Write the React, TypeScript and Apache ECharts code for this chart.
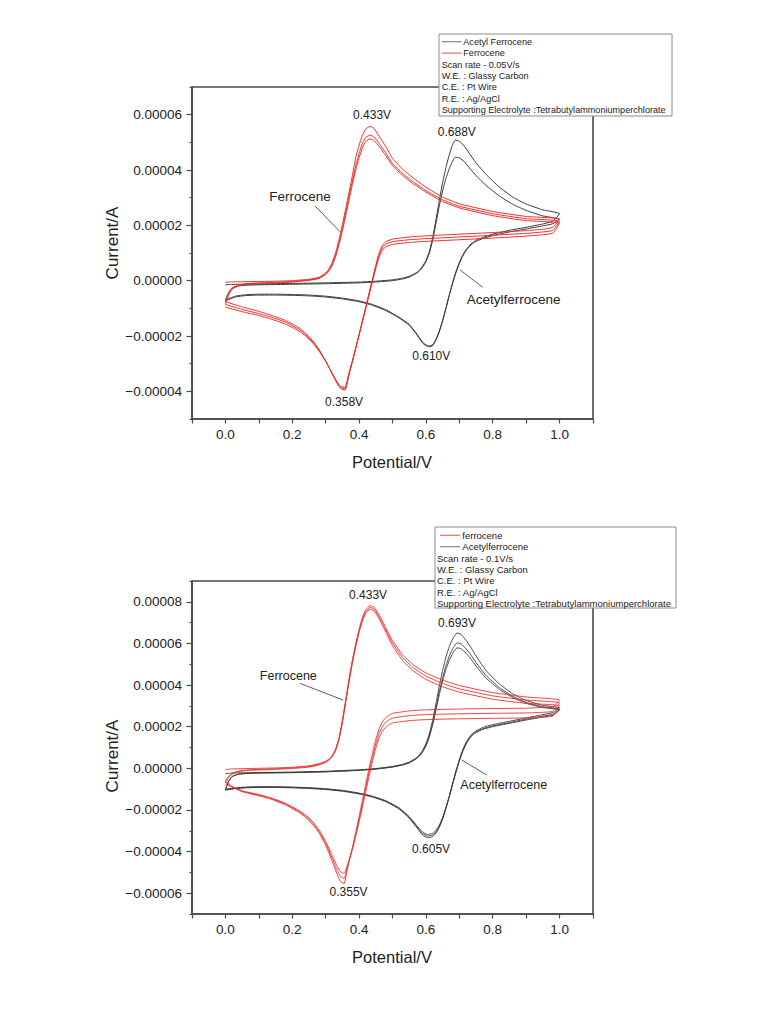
import React, { useEffect, useRef } from 'react';
import * as echarts from 'echarts';

// ---------- Upper panel: scan rate 0.05 V/s (potential in V, current in µA) ----------
const topFcFwdV = [0, 0.01, 0.02, 0.04, 0.07, 0.1, 0.15, 0.2, 0.25, 0.28, 0.3, 0.31, 0.32, 0.33, 0.34, 0.35, 0.36, 0.37, 0.38, 0.39, 0.4, 0.41, 0.42, 0.433, 0.445, 0.46, 0.48, 0.5, 0.53, 0.56, 0.6, 0.65, 0.7, 0.8, 0.9, 1.0];
const topFcFwd1 = [-0.6, -0.5, -0.45, -0.4, -0.35, -0.3, -0.2, 0, 0.5, 1.2, 2.8, 4.3, 6.7, 10.2, 14.8, 20.2, 26, 32, 38, 44.5, 49, 52.5, 54.8, 55.8, 55, 52.2, 48.5, 44.2, 40.3, 37.3, 33.8, 30.2, 27.8, 25, 23.2, 22.3];
const topFcFwd2 = [-7.6, -4.5, -2.6, -1.5, -1.0, -0.8, -0.6, -0.3, 0.3, 1.0, 2.5, 3.9, 6.1, 9.4, 13.8, 19, 24.6, 30.4, 36, 41.6, 46, 49.6, 51.8, 52.6, 51.9, 49.6, 46.2, 42.4, 38.8, 35.9, 32.6, 29.2, 26.9, 24.2, 22.4, 21.5];
const topFcFwd3 = [-8.6, -5.2, -3.1, -1.8, -1.2, -1.0, -0.8, -0.5, 0.1, 0.8, 2.2, 3.5, 5.6, 8.8, 13, 18, 23.5, 29.2, 34.8, 40, 44.4, 48, 50.3, 51.3, 50.6, 48.5, 45.2, 41.6, 38.1, 35.2, 32, 28.6, 26.3, 23.5, 21.7, 20.8];
const topFcRevV = [0.98, 0.95, 0.9, 0.8, 0.7, 0.6, 0.55, 0.5, 0.48, 0.47, 0.46, 0.45, 0.44, 0.43, 0.42, 0.41, 0.4, 0.39, 0.38, 0.37, 0.358, 0.345, 0.335, 0.32, 0.3, 0.28, 0.26, 0.24, 0.22, 0.18, 0.14, 0.1, 0.05, 0];
const topFcRev1 = [19.3, 18.6, 18.1, 17.4, 16.8, 16.2, 15.8, 15.0, 14.1, 12.8, 10.0, 5.6, 0.6, -4.4, -9.4, -14.4, -19.4, -24.4, -29.3, -34, -39.6, -39, -37.3, -33.8, -29, -24.8, -21.5, -19, -17, -14.4, -12.6, -11.1, -9.5, -7.6];
const topFcRev2 = [18.2, 17.6, 17.1, 16.4, 15.8, 15.2, 14.8, 14.1, 13.2, 12.0, 9.3, 5.0, 0.1, -4.8, -9.8, -14.7, -19.6, -24.4, -29.2, -33.6, -39.1, -38.6, -37, -33.7, -29.1, -25.1, -21.9, -19.5, -17.6, -15, -13.3, -11.9, -10.4, -8.6];
const topFcRev3 = [17.2, 16.6, 16.1, 15.4, 14.8, 14.2, 13.8, 13.1, 12.2, 11.1, 8.5, 4.3, -0.4, -5.2, -10.1, -14.9, -19.7, -24.4, -29, -33.3, -38.6, -38.2, -36.7, -33.6, -29.1, -25.4, -22.3, -20, -18.2, -15.7, -14, -12.6, -11.2, -9.6];

const topAcFwdV = [0, 0.01, 0.02, 0.04, 0.07, 0.1, 0.2, 0.3, 0.4, 0.45, 0.5, 0.53, 0.55, 0.57, 0.58, 0.59, 0.6, 0.61, 0.62, 0.63, 0.64, 0.65, 0.66, 0.67, 0.678, 0.688, 0.7, 0.715, 0.73, 0.75, 0.78, 0.82, 0.86, 0.9, 0.95, 1.0];
const topAcFwd1 = [-1.5, -1.4, -1.4, -1.3, -1.3, -1.2, -1.0, -0.8, -0.5, -0.2, 0.3, 0.9, 1.6, 2.8, 3.8, 5.2, 7.3, 10.5, 15.5, 22, 29, 35.5, 41, 45.5, 48.6, 50.8, 50.4, 48.6, 46, 42.6, 38.4, 33.8, 30.2, 27.7, 25.6, 24.2];
const topAcFwd2 = [-7, -4.2, -2.8, -1.9, -1.6, -1.5, -1.3, -1.1, -0.8, -0.5, 0, 0.6, 1.3, 2.5, 3.4, 4.8, 6.8, 9.8, 14.5, 20.5, 27, 32.5, 37, 40.5, 42.8, 44.6, 44.4, 43, 40.8, 38, 34.4, 30.6, 27.6, 25.4, 23.4, 22.2];
const topAcRevV = [0.98, 0.95, 0.9, 0.85, 0.8, 0.77, 0.75, 0.74, 0.73, 0.72, 0.71, 0.7, 0.69, 0.68, 0.67, 0.66, 0.65, 0.64, 0.63, 0.62, 0.61, 0.6, 0.59, 0.57, 0.55, 0.52, 0.48, 0.44, 0.4, 0.35, 0.3, 0.25, 0.2, 0.15, 0.1, 0.06, 0.03, 0];
const topAcRev1 = [21.5, 20.5, 19.3, 18.2, 16.8, 15.6, 14.6, 13.8, 12.7, 11.2, 9.2, 6.6, 3.3, -0.6, -5, -9.8, -14.3, -18.2, -21.2, -23.2, -23.6, -23.2, -22.2, -18.8, -15.8, -13.2, -10.5, -8.6, -7.3, -6.3, -5.6, -5.2, -5, -4.9, -4.9, -5.1, -5.6, -7];
const topAcRev2 = [20.6, 19.8, 18.7, 17.6, 16.3, 15.2, 14.2, 13.4, 12.3, 10.8, 8.8, 6.2, 2.9, -1, -5.4, -10.1, -14.6, -18.5, -21.5, -23.5, -23.9, -23.5, -22.5, -19.1, -16.1, -13.5, -10.8, -8.9, -7.6, -6.6, -5.9, -5.5, -5.3, -5.2, -5.2, -5.4, -5.9, -7.3];

// ---------- Lower panel: scan rate 0.1 V/s ----------
const botFcFwdV = [0, 0.01, 0.02, 0.04, 0.07, 0.1, 0.15, 0.2, 0.25, 0.28, 0.3, 0.31, 0.32, 0.33, 0.34, 0.35, 0.36, 0.37, 0.38, 0.39, 0.4, 0.41, 0.42, 0.433, 0.445, 0.46, 0.48, 0.5, 0.53, 0.56, 0.6, 0.65, 0.7, 0.8, 0.9, 1.0];
const botFcFwd1 = [-0.6, -0.4, -0.3, -0.2, -0.1, 0, 0.2, 0.5, 1.2, 2.2, 3.4, 4.5, 6.2, 9.4, 14.8, 23, 33, 43, 52, 60, 66.8, 72.4, 76.2, 78.2, 77.4, 73.8, 67.6, 61.4, 54.6, 50, 45.8, 42.4, 39.8, 36.4, 34.3, 32.8];
const botFcFwd2 = [-6, -3.8, -2.4, -1.3, -0.7, -0.5, -0.2, 0.2, 0.9, 1.9, 3.1, 4.2, 5.9, 9, 14.3, 22.4, 32.4, 42.3, 51.3, 59.2, 66, 71.6, 75.3, 77.3, 76.5, 72.8, 66.5, 60.2, 53.3, 48.6, 44.3, 40.8, 38.2, 34.8, 32.8, 31.4];
const botFcFwd3 = [-6.8, -4.3, -2.8, -1.6, -1.0, -0.8, -0.5, -0.1, 0.6, 1.6, 2.8, 3.9, 5.6, 8.6, 13.8, 21.8, 31.7, 41.5, 50.5, 58.4, 65.2, 70.8, 74.4, 76.4, 75.6, 71.8, 65.4, 58.9, 51.9, 47.1, 42.7, 39.2, 36.6, 33.2, 31.2, 30];
const botFcRevV = [0.98, 0.95, 0.9, 0.8, 0.7, 0.6, 0.55, 0.5, 0.49, 0.48, 0.47, 0.46, 0.45, 0.44, 0.43, 0.42, 0.41, 0.4, 0.39, 0.38, 0.37, 0.363, 0.355, 0.345, 0.335, 0.32, 0.3, 0.28, 0.26, 0.24, 0.22, 0.18, 0.14, 0.1, 0.05, 0.02, 0];
const botFcRev1 = [29.6, 29.2, 28.9, 28.7, 28.5, 28.1, 27.6, 26.4, 25.6, 24.4, 22.4, 19, 13.8, 7.2, 0, -7.6, -15.4, -23.2, -30.8, -38, -44.8, -50, -55.5, -54.5, -51.2, -44.8, -37, -31, -26.8, -23.6, -21.2, -17.6, -15, -13.2, -11.2, -8.8, -6];
const botFcRev2 = [27.4, 26.9, 26.6, 26.4, 26.2, 25.8, 25.3, 24.1, 23.3, 22.1, 20.1, 16.8, 11.7, 5.2, -1.9, -9.4, -17, -24.6, -31.8, -38.6, -44.6, -48.8, -53, -52.1, -49.2, -43.4, -36, -30.2, -26.1, -23, -20.7, -17.2, -14.7, -12.9, -11, -8.9, -6.8];
const botFcRev3 = [25.2, 24.6, 24.2, 24, 23.8, 23.4, 22.9, 21.8, 21, 19.8, 17.9, 14.6, 9.6, 3.2, -3.8, -11.2, -18.6, -25.8, -32.6, -38.9, -44.1, -47.5, -50.5, -49.8, -47.2, -42, -35, -29.4, -25.4, -22.4, -20.2, -16.8, -14.4, -12.6, -10.8, -9, -7.6];

const botAcFwdV = [0, 0.01, 0.02, 0.04, 0.07, 0.1, 0.2, 0.3, 0.4, 0.45, 0.5, 0.53, 0.55, 0.57, 0.58, 0.59, 0.6, 0.61, 0.62, 0.63, 0.64, 0.65, 0.66, 0.67, 0.68, 0.693, 0.705, 0.72, 0.735, 0.75, 0.78, 0.82, 0.86, 0.9, 0.95, 1.0];
const botAcFwd1 = [-2.6, -2.4, -2.3, -2.2, -2.1, -2, -1.8, -1.4, -0.7, -0.1, 0.9, 1.9, 3, 4.9, 6.4, 8.6, 11.8, 16.5, 23, 31, 39.5, 47, 53.5, 58.5, 62.2, 65, 64.4, 61.5, 58, 54, 47, 40.5, 35.8, 32.6, 30.3, 29];
const botAcFwd2 = [-10.5, -6.2, -4, -2.8, -2.4, -2.2, -2, -1.6, -0.9, -0.3, 0.7, 1.7, 2.8, 4.6, 6, 8.1, 11.1, 15.5, 21.6, 29, 36.8, 43.6, 49.4, 54, 57.4, 60.3, 59.8, 57.4, 54.4, 50.8, 44.6, 38.8, 34.6, 31.7, 29.6, 28.4];
const botAcFwd3 = [-10.2, -6, -3.9, -2.8, -2.4, -2.3, -2.1, -1.7, -1, -0.4, 0.6, 1.6, 2.6, 4.4, 5.8, 7.8, 10.7, 14.9, 20.8, 27.9, 35.4, 41.9, 47.5, 51.9, 55.2, 57.9, 57.5, 55.3, 52.5, 49.1, 43.3, 37.9, 34, 31.2, 29.2, 28];
const botAcRevV = [0.98, 0.95, 0.9, 0.85, 0.8, 0.77, 0.75, 0.74, 0.73, 0.72, 0.71, 0.7, 0.69, 0.68, 0.67, 0.66, 0.65, 0.64, 0.63, 0.62, 0.605, 0.59, 0.57, 0.55, 0.52, 0.48, 0.44, 0.4, 0.35, 0.3, 0.25, 0.2, 0.15, 0.1, 0.06, 0.03, 0];
const botAcRev1 = [26.8, 25.8, 24.2, 22.6, 21, 19.6, 18, 16.8, 15, 12.4, 8.8, 4.2, -1.2, -7.2, -13.4, -19.2, -24.4, -28.4, -31.2, -32.8, -33.4, -32, -28, -24, -19.6, -16, -13.8, -12.3, -11, -10.2, -9.7, -9.4, -9.2, -9.2, -9.4, -9.8, -10.5];
const botAcRev2 = [26, 25.1, 23.6, 22, 20.4, 19, 17.5, 16.3, 14.5, 11.9, 8.3, 3.7, -1.6, -7.5, -13.5, -19.1, -24.1, -27.9, -30.6, -32.1, -32.6, -31.3, -27.5, -23.6, -19.3, -15.8, -13.6, -12.1, -10.8, -10, -9.5, -9.2, -9, -9, -9.2, -9.6, -10.2];
const botAcRev3 = [25.4, 24.6, 23.2, 21.6, 20, 18.7, 17.2, 16, 14.2, 11.6, 8, 3.4, -1.8, -7.6, -13.4, -18.8, -23.6, -27.3, -29.9, -31.3, -31.8, -30.6, -27, -23.2, -19, -15.6, -13.4, -11.9, -10.6, -9.8, -9.3, -9, -8.8, -8.8, -9, -9.4, -10];

// Axis ticks (µA) and legend texts
const topMajorTicks = [-40, -20, 0, 20, 40, 60];
const topMinorTicks = [-50, -30, -10, 10, 30, 50, 70];
const botMajorTicks = [-60, -40, -20, 0, 20, 40, 60, 80];
const botMinorTicks = [-70, -50, -30, -10, 10, 30, 50, 70, 90];
const topLegendRows = ['Acetyl Ferrocene', 'Ferrocene', 'Scan rate - 0.05V/s', 'W.E. : Glassy Carbon', 'C.E. : Pt Wire', 'R.E. : Ag/AgCl', 'Supporting Electrolyte :Tetrabutylammoniumperchlorate'];
const botLegendRows = ['ferrocene', 'Acetylferrocene', 'Scan rate - 0.1V/s', 'W.E. : Glassy Carbon', 'C.E. : Pt Wire', 'R.E. : Ag/AgCl', 'Supporting Electrolyte :Tetrabutylammoniumperchlorate'];

const FONT = "'Liberation Sans', Arial, Helvetica, sans-serif";
const RED = '#e8302c';
const DARK = '#3a3a3a';
const LEG_RED = '#f06a6a';
const LEG_GRAY = '#8a8a8a';
const AXIS = '#4a4a4a';
const TEXT = '#222';

type Pt = [number, number];

function loop(fv: number[], fi: number[], rv: number[], ri: number[]): Pt[] {
  const pts: Pt[] = fv.map((v, i) => [v, fi[i]] as Pt);
  rv.forEach((v, i) => pts.push([v, ri[i]]));
  return pts;
}

function extreme(v: number[], cur: number[], sign: number): Pt {
  let k = 0;
  cur.forEach((c, i) => { if (sign * c > sign * cur[k]) k = i; });
  return [v[k], cur[k]];
}

function fmtCurrent(v: number) {
  const r = Math.round(v);
  if (r === 0) return '0.00000';
  const s = (Math.abs(r) / 1e6).toFixed(5);
  return r < 0 ? '\u2212' + s : s;
}

function xAxisFor(gridIndex: number) {
  return {
    type: 'value', gridIndex, min: -0.1, max: 1.1, interval: 0.1,
    axisLine: { show: true, onZero: false, lineStyle: { color: AXIS, width: 1.6 } },
    axisTick: { show: true, length: 4.5, lineStyle: { color: AXIS, width: 1.2 } },
    axisLabel: {
      margin: 8, color: TEXT, fontSize: 13.5, fontFamily: FONT,
      formatter: (v: number) => {
        const k = Math.round(v * 10);
        return k < 0 || k > 10 || k % 2 !== 0 ? '' : (k / 10).toFixed(1);
      },
    },
    splitLine: { show: false },
  };
}

function yMain(gridIndex: number, min: number, max: number, majors: number[]) {
  return {
    type: 'value', gridIndex, min, max, interval: 10, position: 'left',
    axisLine: { show: true, onZero: false, lineStyle: { color: AXIS, width: 1.6 } },
    axisTick: { show: true, length: 5.5, customValues: majors, lineStyle: { color: AXIS, width: 1.2 } },
    axisLabel: {
      customValues: majors, margin: 10, color: TEXT, fontSize: 13.5, fontFamily: FONT,
      formatter: (v: number) => (Math.round(v) % 20 === 0 ? fmtCurrent(v) : ''),
    },
    splitLine: { show: false },
  };
}

function yMinor(gridIndex: number, min: number, max: number, minors: number[]) {
  return {
    type: 'value', gridIndex, min, max, interval: 10, position: 'left', offset: 0,
    axisLine: { show: false, onZero: false },
    axisTick: { show: true, length: 2.5, customValues: minors, lineStyle: { color: AXIS, width: 1.2 } },
    axisLabel: { show: false },
    splitLine: { show: false },
  };
}

function cvSeries(data: Pt[], xi: number, yi: number, color: string, width: number, extra: any = {}) {
  return {
    type: 'line', xAxisIndex: xi, yAxisIndex: yi, data,
    symbol: 'none', showSymbol: false, smooth: 0.15, silent: true,
    lineStyle: { color, width },
    z: 2,
    ...extra,
  };
}

function peakMark(p: Pt, offset: number[]) {
  return {
    coord: p,
    label: { formatter: p[0].toFixed(3) + 'V', offset },
  };
}

function textMark(coord: Pt, text: string, fontSize: number) {
  return { coord, label: { formatter: text, offset: [0, 0], fontSize } };
}

function annotations(peaks: any[], texts: any[], arrows: [Pt, Pt][]) {
  return {
    markPoint: {
      symbol: 'circle', symbolSize: 2, silent: true,
      itemStyle: { color: 'rgba(0,0,0,0)' },
      label: { show: true, position: 'inside', color: TEXT, fontFamily: FONT, fontSize: 12 },
      data: [...peaks, ...texts],
    },
    markLine: {
      silent: true, symbol: ['none', 'arrow'], symbolSize: [0, 7],
      lineStyle: { color: '#333', width: 0.8, type: 'solid' },
      label: { show: false },
      data: arrows.map(([a, b]) => [{ coord: a }, { coord: b }]),
    },
  };
}

function legendBox(x: number, y: number, w: number, h: number, rows: string[], lineColors: string[],
  fontSize: number, rowStart: number, lineX: number, textX: number, infoX: number) {
  const children: any[] = [
    { type: 'rect', shape: { x: 0, y: 0, width: w, height: h }, style: { fill: '#fff', stroke: '#8c8c8c', lineWidth: 1 } },
  ];
  rows.forEach((t, i) => {
    const ry = rowStart + i * 11.4;
    const hasLine = i < lineColors.length;
    if (hasLine) {
      children.push({ type: 'line', shape: { x1: lineX, y1: ry, x2: lineX + 20, y2: ry }, style: { stroke: lineColors[i], lineWidth: 1.2 } });
    }
    children.push({
      type: 'text', x: hasLine ? textX : infoX, y: ry,
      style: { text: t, fill: TEXT, fontSize, fontFamily: FONT, align: 'left', verticalAlign: 'middle', textAlign: 'left', textVerticalAlign: 'middle' },
    });
  });
  return { type: 'group', x, y, z: 100, children };
}

function axisName(x: number, y: number, text: string, fontSize: number, rotate: boolean) {
  return {
    type: 'text', x, y, rotation: rotate ? Math.PI / 2 : 0, z: 50,
    style: { text, fill: TEXT, fontSize, fontFamily: FONT, align: 'center', verticalAlign: 'middle', textAlign: 'center', textVerticalAlign: 'middle' },
  };
}

function buildOption() {
  const topFc = [
    loop(topFcFwdV, topFcFwd1, topFcRevV, topFcRev1),
    loop(topFcFwdV, topFcFwd2, topFcRevV, topFcRev2),
    loop(topFcFwdV, topFcFwd3, topFcRevV, topFcRev3),
  ];
  const topAc = [
    loop(topAcFwdV, topAcFwd1, topAcRevV, topAcRev1),
    loop(topAcFwdV, topAcFwd2, topAcRevV, topAcRev2),
  ];
  const botFc = [
    loop(botFcFwdV, botFcFwd1, botFcRevV, botFcRev1),
    loop(botFcFwdV, botFcFwd2, botFcRevV, botFcRev2),
    loop(botFcFwdV, botFcFwd3, botFcRevV, botFcRev3),
  ];
  const botAc = [
    loop(botAcFwdV, botAcFwd1, botAcRevV, botAcRev1),
    loop(botAcFwdV, botAcFwd2, botAcRevV, botAcRev2),
    loop(botAcFwdV, botAcFwd3, botAcRevV, botAcRev3),
  ];

  const topAnn = annotations(
    [
      peakMark(extreme(topFcFwdV, topFcFwd1, 1), [2, -11]),
      peakMark(extreme(topAcFwdV, topAcFwd1, 1), [1.5, -8]),
      peakMark(extreme(topAcRevV, topAcRev2, -1), [2, 9.5]),
      peakMark(extreme(topFcRevV, topFcRev1, -1), [-1, 11.5]),
    ],
    [textMark([0.2232, 30.35], 'Ferrocene', 13.5), textMark([0.8627, -6.7], 'Acetylferrocene', 13.5)],
    [[[0.343, 17.7], [0.268, 27]], [[0.702, 3.9], [0.77, -2.4]]],
  );
  const botAnn = annotations(
    [
      peakMark(extreme(botFcFwdV, botFcFwd1, 1), [-2, -10.5]),
      peakMark(extreme(botAcFwdV, botAcFwd1, 1), [0, -9.7]),
      peakMark(extreme(botAcRevV, botAcRev1, -1), [3.5, 11.5]),
      peakMark(extreme(botFcRevV, botFcRev1, -1), [4.5, 8]),
    ],
    [textMark([0.1882, 44.35], 'Ferrocene', 12.5), textMark([0.8328, -8.0], 'Acetylferrocene', 12.5)],
    [[[0.3528, 32.8], [0.2232, 40.8]], [[0.707, 4], [0.782, -3.2]]],
  );

  const series: any[] = [];
  topAc.forEach((d) => series.push(cvSeries(d, 0, 0, DARK, 1)));
  topFc.forEach((d, i) => series.push(cvSeries(d, 0, 0, RED, 1, i === 0 ? topAnn : {})));
  botAc.forEach((d) => series.push(cvSeries(d, 1, 2, DARK, 0.9)));
  botFc.forEach((d, i) => series.push(cvSeries(d, 1, 2, RED, 0.9, i === 0 ? botAnn : {})));

  return {
    animation: false,
    backgroundColor: '#fff',
    textStyle: { fontFamily: FONT },
    grid: [
      { left: 192, top: 87, width: 401, height: 332, show: true, borderColor: AXIS, borderWidth: 1.6, backgroundColor: 'transparent' },
      { left: 192, top: 581, width: 401, height: 333, show: true, borderColor: AXIS, borderWidth: 1.6, backgroundColor: 'transparent' },
    ],
    xAxis: [xAxisFor(0), xAxisFor(1)],
    yAxis: [
      yMain(0, -50, 70, topMajorTicks),
      yMinor(0, -50, 70, topMinorTicks),
      yMain(1, -70, 90, botMajorTicks),
      yMinor(1, -70, 90, botMinorTicks),
    ],
    series,
    graphic: [
      axisName(112, 243, 'Current/A', 17, true),
      axisName(392, 462, 'Potential/V', 16.5, false),
      axisName(112, 756, 'Current/A', 17, true),
      axisName(392, 957, 'Potential/V', 16.5, false),
      legendBox(439, 34, 233, 82, topLegendRows, [LEG_GRAY, LEG_RED], 9.1, 7.7, 2.7, 24.3, 2.7),
      legendBox(435, 527, 241, 81, botLegendRows, [LEG_RED, LEG_GRAY], 9.5, 8.3, 5, 27.3, 2),
    ],
  };
}

export default function App() {
  const ref = useRef<HTMLDivElement>(null);
  useEffect(() => {
    if (!ref.current) return;
    const chart = echarts.init(ref.current, null, { renderer: 'svg' });
    chart.setOption(buildOption() as any);
    return () => chart.dispose();
  }, []);
  return (
    <div
      ref={ref}
      style={{ position: 'absolute', left: 0, top: 0, width: 768, height: 1024, background: '#fff' }}
    />
  );
}
